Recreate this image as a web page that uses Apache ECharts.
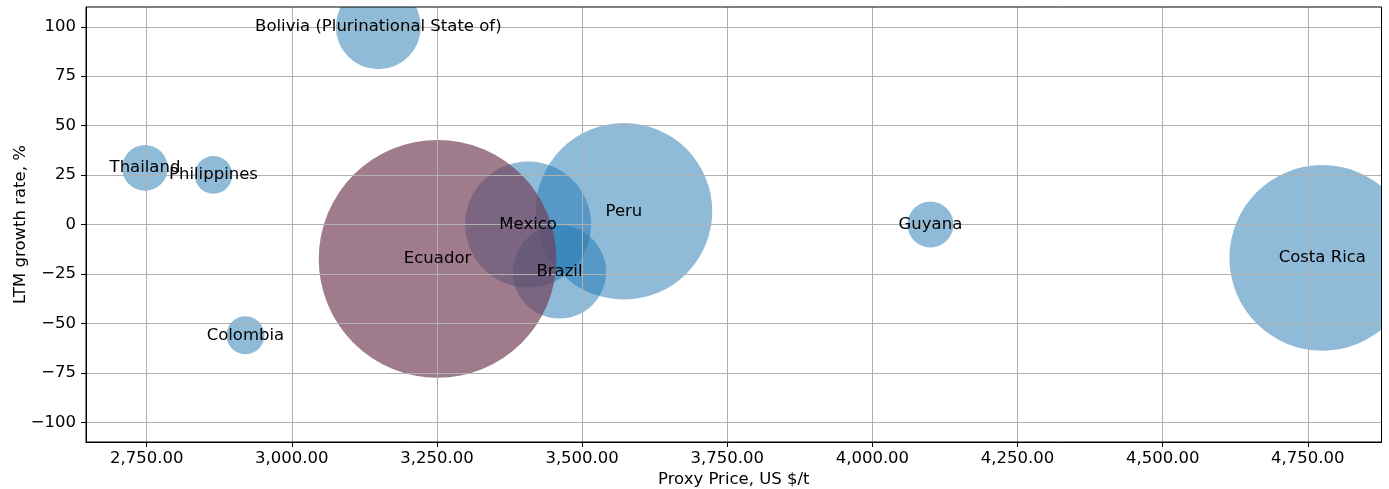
<!DOCTYPE html>
<html>
<head>
<meta charset="utf-8">
<script src="https://cdn.jsdelivr.net/npm/echarts@6/dist/echarts.min.js"></script>
<style>
html,body{margin:0;padding:0;background:#fff;}
#chart{width:1389px;height:489px;}
</style>
</head>
<body>
<div id="chart"></div>
<script>
// ---- data ----
const countries = ['Bolivia (Plurinational State of)', 'Thailand', 'Philippines', 'Colombia', 'Mexico', 'Brazil', 'Peru', 'Guyana', 'Costa Rica', 'Ecuador'];
const proxyPrice = [3149, 2747, 2865, 2920, 3407, 3461, 3572, 4100, 4775, 3251];
const growthRate = [100, 28.6, 25.1, -56, 0, -24, 6.7, 0, -16.9, -17.4];
const bubbleSize = [3745, 1083, 737, 748, 8230, 4513, 16170, 1097, 17876, 29290];
const highlighted = 'Ecuador';
const xTicks = [2750, 3000, 3250, 3500, 3750, 4000, 4250, 4500, 4750];
const yTicks = [-100, -75, -50, -25, 0, 25, 50, 75, 100];
const xTitle = 'Proxy Price, US $/t';
const yTitle = 'LTM growth rate, %';

const W = 1389, H = 489;
const G = {left: 86, right: 7.5, top: 7, bottom: 47};
const FONT = 'DejaVu Sans';
const FS = 16.5;
const BLUE = 'rgba(31,119,180,0.5)';
const HIGHLIGHT = 'rgba(115,60,85,0.68)';

function fmtX(v) {
  const s = Number(v).toFixed(2);
  const parts = s.split('.');
  parts[0] = parts[0].replace(/\B(?=(\d{3})+(?!\d))/g, ',');
  return parts.join('.');
}
function fmtY(v) {
  return v < 0 ? '\u2212' + Math.abs(v) : String(v);
}

const data = countries.map((c, i) => ({
  name: c,
  value: [proxyPrice[i], growthRate[i], bubbleSize[i]]
}));

// white masks outside the plot area so bubbles are clipped at the frame
const maskStyle = {fill: '#fff'};
const masks = [
  {type: 'rect', z: 3, silent: true, shape: {x: 0, y: 0, width: W, height: G.top}, style: maskStyle},
  {type: 'rect', z: 3, silent: true, shape: {x: W - G.right, y: 0, width: G.right, height: H}, style: maskStyle},
  {type: 'rect', z: 3, silent: true, shape: {x: 0, y: 0, width: G.left, height: H}, style: maskStyle},
  {type: 'rect', z: 3, silent: true, shape: {x: 0, y: H - G.bottom, width: W, height: G.bottom}, style: maskStyle}
];

const chart = echarts.init(document.getElementById('chart'), null, {renderer: 'canvas'});
chart.setOption({
  animation: false,
  backgroundColor: '#fff',
  grid: {left: G.left, right: G.right, top: G.top, bottom: G.bottom, outerBoundsMode: 'none', containLabel: false,
         show: true, borderColor: '#000', borderWidth: 1, backgroundColor: 'transparent', z: 6},
  graphic: {elements: masks},
  xAxis: {
    type: 'value', min: 2645.4, max: 4877, z: 5,
    name: xTitle, nameLocation: 'middle', nameGap: 29, nameMoveOverlap: false,
    nameTextStyle: {fontFamily: FONT, fontSize: FS, color: '#000'},
    axisLine: {show: true, onZero: false, lineStyle: {color: '#000', width: 1}},
    axisTick: {show: true, length: 5, lineStyle: {color: '#000', width: 1}, customValues: xTicks},
    axisLabel: {fontFamily: FONT, fontSize: FS, color: '#000', margin: 8, formatter: fmtX, customValues: xTicks},
    splitLine: {show: true, lineStyle: {color: '#b0b0b0', width: 1}, customValues: xTicks}
  },
  yAxis: {
    type: 'value', min: -110, max: 110, z: 5,
    name: yTitle, nameLocation: 'middle', nameGap: 57, nameMoveOverlap: false,
    nameTextStyle: {fontFamily: FONT, fontSize: FS, color: '#000'},
    axisLine: {show: true, onZero: false, lineStyle: {color: '#000', width: 1}},
    axisTick: {show: true, length: 5, lineStyle: {color: '#000', width: 1}, customValues: yTicks},
    axisLabel: {fontFamily: FONT, fontSize: FS, color: '#000', margin: 10, formatter: fmtY, customValues: yTicks},
    splitLine: {show: true, lineStyle: {color: '#b0b0b0', width: 1}, customValues: yTicks}
  },
  series: [{
    type: 'custom',
    z: 2,
    clip: true,
    data: data,
    encode: {x: 0, y: 1},
    renderItem: function (params, api) {
      const pt = api.coord([api.value(0), api.value(1)]);
      const r = Math.sqrt(api.value(2)) / 0.72 / 2;
      const name = countries[params.dataIndex];
      return {
        type: 'circle',
        shape: {cx: pt[0], cy: pt[1], r: r},
        style: {fill: name === highlighted ? HIGHLIGHT : BLUE}
      };
    },
    emphasis: {disabled: true}
  }, {
    type: 'scatter',
    z: 10,
    data: data,
    symbolSize: 1,
    itemStyle: {opacity: 0},
    label: {
      show: true, position: 'inside', formatter: '{b}',
      fontFamily: FONT, fontSize: FS, color: '#000', opacity: 1,
      textBorderWidth: 0, textBorderColor: 'transparent'
    },
    emphasis: {disabled: true}
  }]
});
</script>
</body>
</html>
